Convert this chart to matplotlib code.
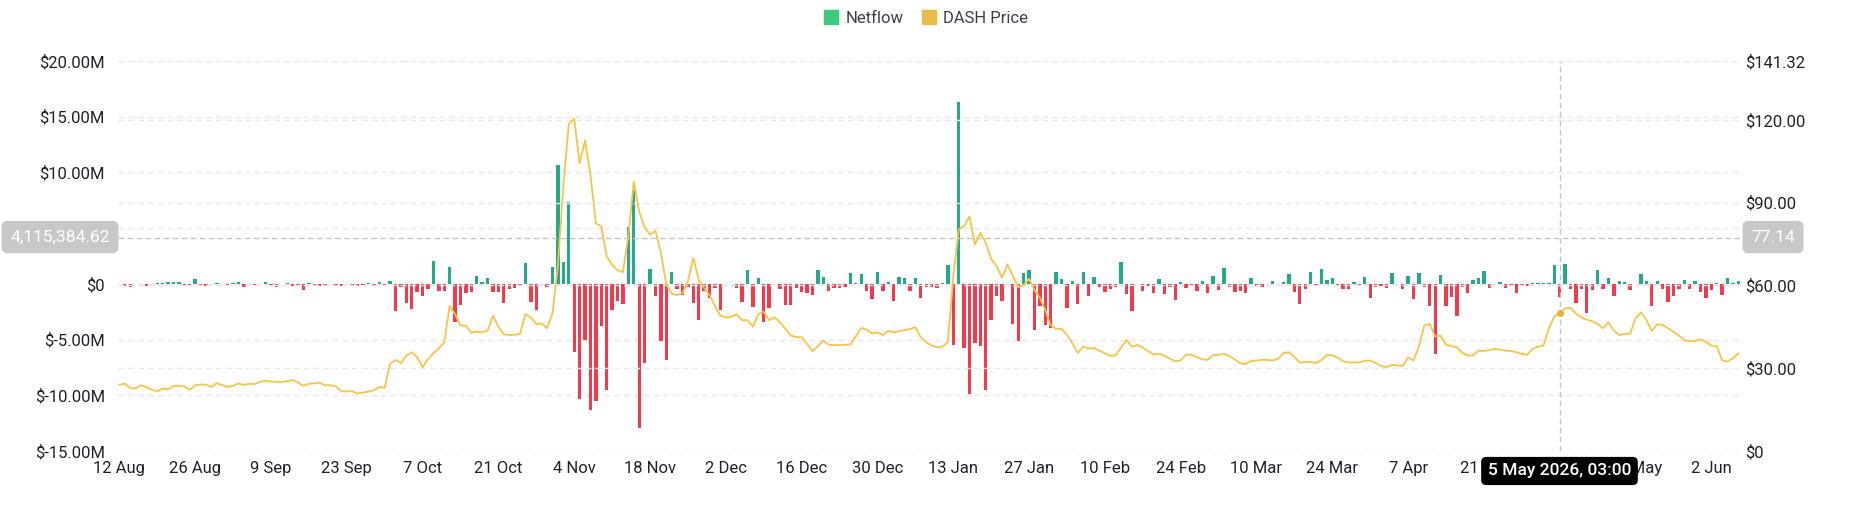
import pandas as pd
import matplotlib
matplotlib.use("Agg")
import matplotlib.pyplot as plt
from matplotlib.patches import Patch
from matplotlib.ticker import FuncFormatter

plt.rcParams['font.family'] = ['Roboto', 'DejaVu Sans']

# daily exchange netflow for DASH, in millions of USD (12 Aug 2025 onwards)
netflow_m = [
    -0.05, -0.2, -0.25, -0.05, -0.05, -0.2, 0.03, 0.1, 0.05, 0.15,
    0.15, 0.2, -0.08, -0.1, 0.45, -0.15, -0.15, -0.05, 0.05, -0.02,
    -0.2, 0.05, 0.15, -0.25, -0.05, -0.08, 0.02, 0.2, -0.06, -0.25,
    -0.05, 0.04, -0.2, -0.12, -0.55, 0.04, -0.1, -0.2, -0.2, -0.05,
    -0.06, -0.2, 0.02, -0.06, -0.2, -0.1, 0.1, -0.06, 0.15, -0.2,
    0.3, -2.4, -0.3, -1.75, -2.3, -0.75, -1.05, -0.5, 2.05, -0.6,
    -0.6, 1.55, -3.4, -1.9, -0.8, -0.7, 0.7, 0.2, 0.5, -0.7,
    -0.7, -1.7, -0.45, -0.4, -0.2, 1.85, -1.6, -2.35, -0.05, -0.3,
    1.55, 10.7, 1.95, 7.35, -6.15, -10.3, -5.0, -11.3, -10.5, -3.75,
    -9.55, -2.35, -1.55, -1.8, 5.1, 8.4, -12.9, -7.1, 1.3, -1.05,
    -5.15, -6.8, 1.1, -0.45, -1.0, -0.25, -1.75, -3.2, -0.65, -1.3,
    -0.4, -2.35, -0.05, -0.05, -0.35, -1.65, 1.2, -2.1, 0.5, -3.4,
    -2.2, -0.05, -0.45, -1.9, -1.9, -0.4, -0.75, -0.85, -1.0, 1.2,
    0.6, -0.6, -0.4, -0.4, -0.25, 1.0, 0.1, 0.85, -0.6, -1.4,
    1.05, -0.6, 0.15, -1.5, 0.65, 0.5, -0.65, 0.5, -1.3, -0.25,
    -0.25, -0.35, 0.1, 1.65, -5.5, 16.35, -5.75, -9.9, -5.35, -5.55,
    -9.5, -3.2, -1.05, -1.5, 0.0, -3.6, -5.15, 1.0, 1.25, -4.15,
    -2.0, -3.7, -4.0, 1.05, 0.45, -2.15, 0.25, -1.8, 1.05, -1.05,
    0.6, -0.3, -0.7, -0.45, -0.25, 2.0, -0.9, -2.4, -0.05, -0.6,
    -0.2, -0.8, 0.4, -0.95, -0.3, -1.45, 0.15, -0.4, -0.15, -0.65,
    0.25, -0.85, 0.75, -0.55, 1.4, -0.3, -0.7, -0.6, -0.8, 0.5,
    -0.15, -0.25, -0.05, 0.25, 0.0, 0.15, 0.85, -0.7, -1.8, -0.45,
    1.05, -0.2, 1.3, 0.35, 0.5, -0.15, -0.5, -0.5, 0.15, -0.1,
    0.6, -1.3, -0.25, -0.2, -0.35, 0.95, -0.05, -0.5, 0.75, -1.4,
    0.95, -0.25, -1.95, -6.25, 0.8, -1.95, -1.15, -2.85, -0.25, -0.85,
    0.35, 0.5, 1.15, -0.4, -0.05, 0.2, -0.35, -0.15, -0.85, -0.2,
    -0.2, 0.1, 0.1, 0.1, 0.1, 1.7, -1.15, 1.75, -0.5, -1.7,
    -0.5, -2.65, -0.55, 1.25, -0.5, 0.5, -1.1, 0.25, 0.15, -0.55,
    -0.05, 0.85, 0.3, -1.95, 0.3, -0.5, -1.6, -1.05, -0.5, 0.35,
    -0.45, 0.3, -0.75, -1.3, -0.55, 0.1, -1.0, 0.55, 0.05, 0.3,
]

# daily DASH price in USD
dash_price = [
    24.0, 24.4, 22.8, 22.7, 23.8, 23.2, 22.2, 21.7, 22.6, 22.4,
    23.5, 23.6, 23.4, 22.2, 23.8, 24.1, 24.0, 23.2, 24.6, 23.9,
    23.2, 23.6, 24.5, 23.9, 24.4, 24.2, 25.1, 25.4, 25.2, 25.0,
    25.0, 25.3, 25.7, 24.8, 23.6, 24.4, 24.5, 24.7, 23.8, 23.8,
    23.4, 21.6, 21.6, 21.7, 20.8, 21.2, 21.5, 22.0, 23.2, 22.9,
    31.6, 33.0, 31.8, 34.6, 35.8, 34.0, 30.4, 33.4, 35.4, 37.2,
    39.4, 52.6, 49.5, 45.5, 45.4, 42.8, 43.3, 43.0, 43.6, 49.0,
    45.0, 42.3, 42.0, 42.1, 42.4, 49.6, 48.4, 46.0, 46.2, 44.5,
    50.0, 67.6, 96.4, 118.5, 120.4, 104.2, 112.6, 100.0, 82.5, 81.4,
    70.5, 67.5, 65.5, 64.8, 78.0, 97.6, 86.8, 81.0, 78.4, 79.8,
    72.0, 60.4, 57.0, 56.5, 57.2, 61.6, 70.0, 62.0, 59.0, 56.5,
    52.5, 49.0, 48.4, 48.6, 49.6, 47.4, 47.4, 45.0, 49.6, 50.5,
    47.4, 48.4, 46.6, 44.3, 41.8, 41.3, 41.2, 38.8, 36.2, 38.0,
    40.0, 38.5, 38.4, 38.4, 38.5, 38.6, 41.5, 44.6, 44.0, 42.6,
    43.0, 42.0, 43.5, 43.0, 43.4, 43.8, 44.2, 44.8, 41.2, 39.4,
    38.2, 37.6, 37.8, 39.5, 63.0, 80.3, 81.5, 85.0, 74.8, 79.0,
    75.5, 69.6, 67.0, 62.8, 67.6, 63.5, 59.3, 60.1, 62.4, 58.3,
    55.5, 51.0, 45.5, 44.3, 44.2, 42.2, 39.0, 35.5, 37.8, 37.2,
    37.3, 36.3, 35.4, 34.5, 34.7, 37.5, 40.2, 37.8, 38.4, 37.5,
    36.2, 34.9, 35.3, 34.5, 33.5, 32.5, 32.8, 35.0, 34.8, 34.0,
    33.2, 33.0, 34.8, 34.8, 35.2, 34.4, 33.2, 31.8, 31.5, 32.6,
    32.8, 33.0, 33.0, 32.8, 33.4, 35.5, 35.8, 34.0, 32.0, 32.2,
    32.3, 31.8, 33.0, 34.8, 34.7, 33.8, 32.5, 32.1, 32.1, 32.1,
    32.7, 32.8, 31.9, 30.8, 30.4, 31.2, 31.0, 30.8, 34.0, 32.8,
    38.0, 45.5, 46.0, 41.5, 41.8, 38.5, 38.0, 37.6, 35.6, 34.6,
    34.6, 36.4, 36.2, 36.6, 37.0, 36.7, 36.4, 36.2, 35.8, 35.2,
    34.9, 37.0, 37.8, 38.2, 44.5, 48.7, 50.0, 51.7, 51.8, 49.8,
    48.4, 47.6, 47.0, 46.0, 44.5, 46.6, 43.6, 42.0, 42.4, 42.6,
    48.0, 50.2, 47.5, 43.5, 45.9, 45.7, 44.5, 43.2, 41.8, 40.2,
    39.8, 39.9, 40.4, 39.5, 38.2, 38.0, 32.8, 32.4, 33.6, 35.4,
]

start = "2025-08-12"
left_ticks = [-15, -10, -5, 0, 5, 10, 15, 20]
right_ticks = [0, 30, 60, 90, 120, 141.32]
hover_time = pd.Timestamp("2026-05-05 03:00")
hover_flow = 4115384.62
hover_price = 77.14
hover_idx = 266

dates = pd.date_range(start, periods=len(netflow_m), freq="D")
tick_dates = pd.date_range(start, "2026-06-02", freq="14D")
tick_labels = [f"{d.day} {d:%b}" for d in tick_dates]

GREEN = "#24a98b"
RED = "#f3394c"
GOLD = "#f7c448"
TXT = "#1e2329"
grid_style = dict(color="#e9e9e9", lw=1, ls=(0, (4.5, 2.5)))

fig = plt.figure(figsize=(18.52, 5.25), dpi=100)
ax = fig.add_axes([118 / 1852, 74 / 525, 1622 / 1852, 390 / 525])
ax2 = ax.twinx()

bar_colors = [GREEN if v >= 0 else RED for v in netflow_m]
ax.bar(dates, netflow_m, width=0.62, color=bar_colors, zorder=2)
ax2.plot(dates, dash_price, color=GOLD, lw=1.3, zorder=3)
ax2.plot(dates[hover_idx], dash_price[hover_idx], "o", ms=4, color="#e5b23a", zorder=4)

ax.set_xlim(dates[0] - pd.Timedelta(hours=6), dates[-1] + pd.Timedelta(hours=7))
ax.set_ylim(-15, 20)
ax2.set_ylim(0, 141.32)

ax.set_yticks(left_ticks)
ax.yaxis.set_major_formatter(FuncFormatter(lambda v, _: "$0" if v == 0 else f"${v:.2f}M"))
ax2.set_yticks(right_ticks)
ax2.yaxis.set_major_formatter(FuncFormatter(lambda v, _: "$0" if v == 0 else f"${v:.2f}"))
ax.set_xticks(tick_dates)
ax.set_xticklabels(tick_labels)

ax.tick_params(axis="y", length=0, pad=9.5, labelsize=12, labelcolor=TXT)
ax.tick_params(axis="x", length=0, pad=7, labelsize=12, labelcolor=TXT)
ax2.tick_params(axis="y", length=0, pad=3.5, labelsize=12, labelcolor=TXT)

ax.set_axisbelow(True)
ax2.set_axisbelow(True)
ax.grid(axis="y", **grid_style)
ax2.grid(axis="y", **grid_style)
ax.grid(axis="x", visible=False)
for a in (ax, ax2):
    for s in a.spines.values():
        s.set_visible(False)

# crosshair
cross = dict(color="#c4c4c4", lw=1, ls=(0, (4, 2.5)), zorder=5)
ax.axhline(hover_flow / 1e6, **cross)
ax.axvline(hover_time, **cross)

box = dict(boxstyle="round,pad=0.5,rounding_size=0.35", fc="#c8c8c8", ec="none")
fig.text(60 / 1852, 1 - 237 / 525, f"{hover_flow:,.2f}", ha="center", va="center",
         color="white", fontsize=12.5, bbox=box)
fig.text(1773 / 1852, 1 - 237 / 525, f"{hover_price:.2f}", ha="center", va="center",
         color="white", fontsize=12.5, bbox=box)
fig.text(1559.5 / 1852, 1 - 471 / 525, "5 May 2026, 03:00", ha="center", va="center",
         color="white", fontsize=12.5, fontweight="medium",
         bbox=dict(boxstyle="round,pad=0.38,rounding_size=0.3", fc="black", ec="none"))

handles = [Patch(color="#3cca7b", label="Netflow"), Patch(color="#ebbb4a", label="DASH Price")]
fig.legend(handles=handles, loc="center", bbox_to_anchor=(926 / 1852, 1 - 18 / 525), ncol=2,
           frameon=False, fontsize=12, handlelength=0.85, handleheight=0.85,
           handletextpad=0.45, columnspacing=1.1, labelcolor="#3a3f47")

fig.savefig("out.png", dpi=100)
